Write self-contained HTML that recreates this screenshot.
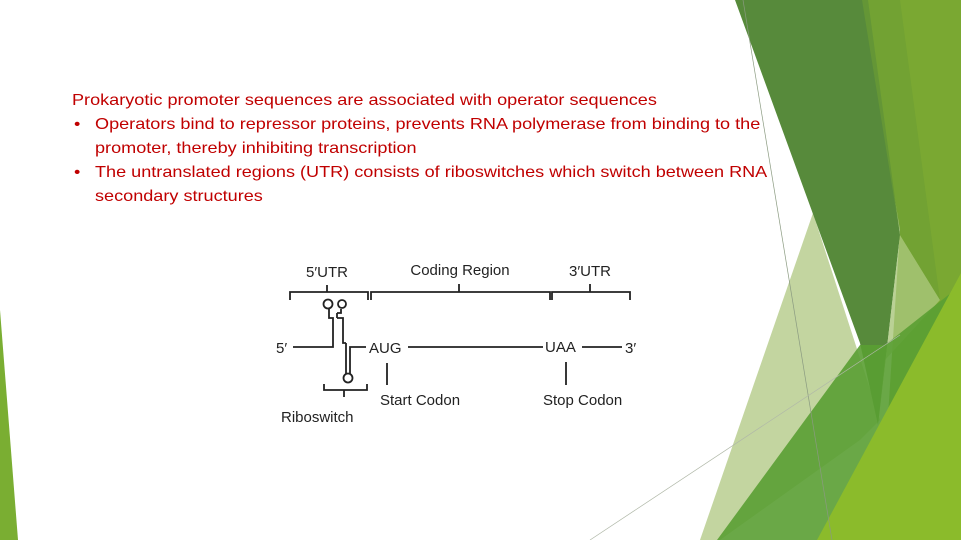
<!DOCTYPE html>
<html><head><meta charset="utf-8"><style>
html,body{margin:0;padding:0}
body{width:961px;height:540px;position:relative;overflow:hidden;background:#fff;font-family:"Liberation Sans",sans-serif}
.t{position:absolute;color:#c00000;font-size:16px;line-height:24px;font-family:"Liberation Sans",sans-serif;white-space:nowrap;transform-origin:0 0;transform:scaleX(1.13)}
</style></head><body>
<svg width="961" height="540" style="position:absolute;left:0;top:0">
<polygon points="0,310 18,540 0,540" fill="#7aae32"/>
<polygon points="862,0 961,0 961,540 880,540 900,230" fill="#7aa832"/>
<polygon points="813,213 880,420 860,440 720,540 700,540" fill="#c3d5a0"/>
<polygon points="735,0 868,0 900,235 878,425 860,343" fill="#578a3b"/>
<polygon points="900,235 940,300 885,360 878,425" fill="#a9c67a" opacity="0.8"/>
<polygon points="717,540 860,345 885,345 961,285 961,540" fill="#5a9e33" opacity="0.9"/>
<polygon points="817,540 961,273 961,540" fill="#8bbb2b"/>
<polygon points="862,0 900,0 940,300 900,235" fill="#6c9e33" opacity="0.6"/>
<line x1="743" y1="0" x2="832" y2="540" stroke="#8a9a80" stroke-width="0.7"/>
<line x1="590" y1="540" x2="900" y2="335" stroke="#b0b8a8" stroke-width="0.7"/>
<g font-family="Liberation Sans,sans-serif" font-size="15" fill="#222" stroke="none">
<text x="327" y="277" text-anchor="middle">5′UTR</text>
<text x="460" y="275" text-anchor="middle">Coding Region</text>
<text x="590" y="276" text-anchor="middle">3′UTR</text>
<text x="276" y="353">5′</text>
<text x="369" y="353">AUG</text>
<text x="545" y="352">UAA</text>
<text x="625" y="353">3′</text>
<text x="380" y="405">Start Codon</text>
<text x="543" y="405">Stop Codon</text>
<text x="281" y="422">Riboswitch</text>
</g>
<g stroke="#222" stroke-width="1.8" fill="none">
<path d="M290,300 V292 H368 V300 M327,292 V285"/>
<path d="M371,300 V292 H550 V300 M459,292 V284"/>
<path d="M552,300 V292 H630 V300 M590,292 V284"/>
<path d="M293,347 H333 V318 H329 V309 M337,318 V313 M341,309 V313 H337"/>
<circle cx="328" cy="304" r="4.5"/><circle cx="342" cy="304" r="4"/>
<path d="M366,347 H350 V374 M346,374 V343 M346,343 H343 V318 H337"/>
<circle cx="348" cy="378" r="4.5"/>
<path d="M408,347 H543 M582,347 H622"/>
<path d="M387,363 V385 M566,362 V385"/>
<path d="M324,384 V390 H367 V384 M344,390 V397"/>
</g>
</svg>
<div class="t" style="left:72px;top:89px">Prokaryotic promoter sequences are associated with operator sequences</div>
<div class="t" style="left:74px;top:113px">•</div>
<div class="t" style="left:95px;top:113px">Operators bind to repressor proteins, prevents RNA polymerase from binding to the<br>promoter, thereby inhibiting transcription</div>
<div class="t" style="left:74px;top:161px">•</div>
<div class="t" style="left:95px;top:161px">The untranslated regions (UTR) consists of riboswitches which switch between RNA<br>secondary structures</div>
</body></html>
